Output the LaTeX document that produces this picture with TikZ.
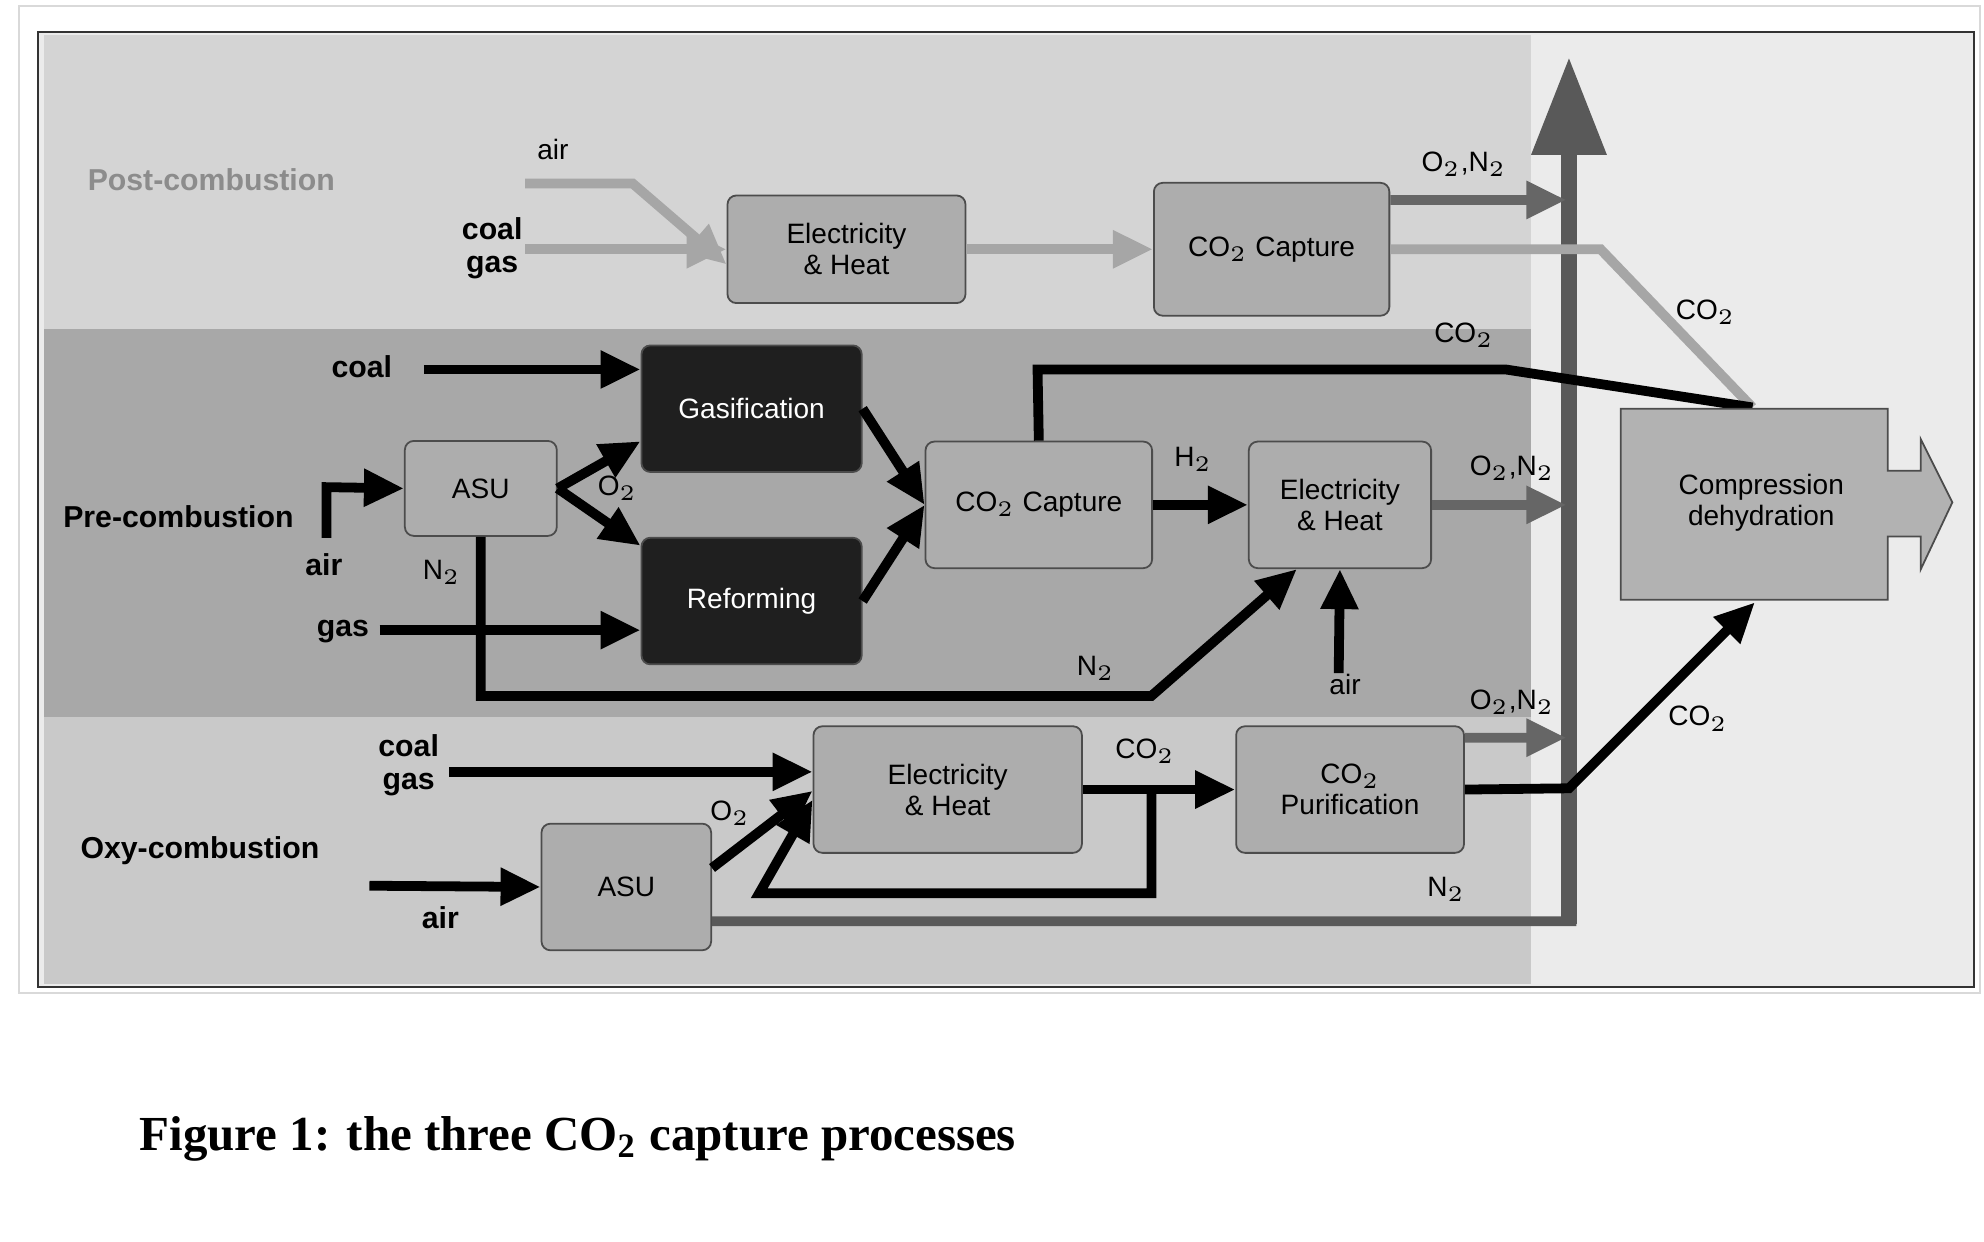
\documentclass[tikz,border=0pt]{standalone}
\usepackage{fontspec}
\setmainfont{Liberation Serif}
\setsansfont{Liberation Sans}
\usetikzlibrary{arrows.meta,positioning}

\begin{document}
\begin{tikzpicture}
      [x=0.01cm, y=-0.01cm, >={Triangle[length=9pt,width=8pt]},
      every node/.style={font=\sffamily\fontsize{6.3}{7}\selectfont, align=center},
      box/.style={rectangle, draw=black!70, rounded corners=2pt, fill=black!32,
        align=center, inner sep=0pt},
      dark/.style={box, fill=black!88, text=white},
      lbl/.style={font=\sffamily\bfseries\fontsize{6.8}{7.5}\selectfont, align=center},
      flow/.style={line width=2.2pt, ->},
      pale/.style={line width=2.2pt, draw=black!35, ->},
      mid/.style={line width=2.2pt, draw=black!60, ->}]

      \useasboundingbox (0,0) rectangle (1568,981);
      % frame and bands
      \draw [black!15, fill=white] (15,5) rectangle (1565,785);
      \draw [black!80, fill=black!8] (30,25) rectangle (1560,780);
      \fill [black!17] (35,28) rectangle (1210,260);
      \fill [black!34] (35,260) rectangle (1210,567);
      \fill [black!21] (35,567) rectangle (1210,778);
      \draw [line width=3.5pt, black!65, -{Triangle[length=22pt,width=16pt]}] (1240,730) -- (1240,45);

      % post-combustion
      \node [lbl, text=black!45] (post) at (167,142) {Post-combustion};
      \node (airA) at (437,118) {air};
      \node [lbl] (cgA) at (389,196) {coal\\gas};
      \node [box, minimum width=1.88cm, minimum height=0.85cm] (ehA) at (669,197) {Electricity\\\& Heat};
      \node [box, minimum width=1.86cm, minimum height=1.05cm] (capA) at (1005,197) {CO$_2$ Capture};
      \coordinate (airAs) at (415,145);
      \coordinate (cgAs) at (415,197);
      \draw [pale] (airAs) -- (500,145) -- ([yshift=-0.12cm]ehA.west);
      \draw [pale] (cgAs) -- (ehA.west);
      \draw [pale] (ehA) -- (capA);
      \draw [mid] ([yshift=0.39cm]capA.east) -- (1238,158);
      \node (onA) at (1157,130) {O$_2$,N$_2$};
      \draw [line width=2.2pt, black!35] (capA.east) -- (1265,197) -- (1385,322);
      \node (co2A) at (1348,247) {CO$_2$};

      % pre-combustion
      \node [lbl] (pre) at (141,408) {Pre-combustion};
      \node [lbl] (coalB) at (286,290) {coal};
      \node [lbl] (gasB) at (271,499) {gas};
      \node [lbl] (airB) at (256,446) {air};
      \node [dark, minimum width=1.74cm, minimum height=1cm] (gas) at (594,323) {Gasification};
      \node [dark, minimum width=1.74cm, minimum height=1cm] (ref) at (594,475) {Reforming};
      \node [box, minimum width=1.2cm, minimum height=0.75cm] (asuB) at (380,386) {ASU};
      \node [box, minimum width=1.79cm, minimum height=1cm] (capB) at (821,399) {CO$_2$ Capture};
      \node [box, minimum width=1.44cm, minimum height=1cm] (ehB) at (1059,399) {Electricity\\\& Heat};
      \draw [flow] (335,292) -- (gas.west |- 0,292);
      \draw [flow] (300,498) -- (ref.west |- 0,498);
      \draw [flow] (258,425) -- (258,385) -- (asuB.west);
      \draw [flow] (asuB.east) -- ([yshift=0.25cm]gas.south west);
      \draw [flow] (asuB.east) -- ([yshift=-0.07cm]ref.north west);
      \node (o2B) at (488,386) {O$_2$};
      \draw [flow] (gas.east) -- (capB.west);
      \draw [flow] (ref.east) -- (capB.west);
      \draw [flow] (asuB.south) -- (380,550) -- (910,550) -- ([xshift=-0.34cm]ehB.south);
      \node (n2B) at (349,452) {N$_2$};
      \node (n2C) at (866,528) {N$_2$};
      \draw [line width=2.2pt] (capB.north) -- (820,292) -- (1190,292) -- (1385,322);
      \node (co2B) at (1157,265) {CO$_2$};
      \draw [flow] (capB.east) -- (ehB.west);
      \node (h2B) at (943,363) {H$_2$};
      \draw [mid] (ehB.east) -- (1238,399);
      \node (onB) at (1195,370) {O$_2$,N$_2$};
      \draw [flow] (1058,532) -- (ehB.south);
      \node (airC) at (1063,541) {air};

      % compression
      \draw [draw=black!70, fill=black!30] (1281,323) -- (1492,323) -- (1492,372) -- (1518,372)
        -- (1518,347) -- (1543,397) -- (1518,450) -- (1518,424) -- (1492,424) -- (1492,474)
        -- (1281,474) -- cycle;
      \node (comp) at (1392,397) {Compression\\dehydration};

      % oxy-combustion
      \node [lbl] (oxy) at (158,672) {Oxy-combustion};
      \node [lbl] (cgD) at (323,605) {coal\\gas};
      \node [lbl] (airD) at (348,725) {air};
      \node [box, minimum width=2.12cm, minimum height=1cm] (ehD) at (749,624) {Electricity\\\& Heat};
      \node [box, minimum width=1.34cm, minimum height=1cm] (asuD) at (495,701) {ASU};
      \node [box, minimum width=1.8cm, minimum height=1cm] (pur) at (1067,624) {CO$_2$\\Purification};
      \draw [flow] (355,610) -- (ehD.west |- 0,610);
      \draw [flow] (292,700) -- (asuD.west);
      \draw [flow] ([yshift=0.15cm]asuD.east) -- ([yshift=-0.01cm]ehD.west);
      \node (o2D) at (577,643) {O$_2$};
      \draw [flow] (ehD.east) -- (pur.west);
      \node (co2D) at (905,594) {CO$_2$};
      \draw [flow] (910,623) -- (910,706) -- (600,706) -- ([yshift=-0.08cm]ehD.west);
      \draw [mid] ([yshift=0.41cm]pur.east) -- (1238,583);
      \node (onD) at (1195,555) {O$_2$,N$_2$};
      \draw [flow] (pur.east) -- (1240,623) -- (1387,476);
      \node (co2E) at (1342,568) {CO$_2$};
      \draw [line width=2.2pt, black!65] ([yshift=-0.27cm]asuD.east) -- (1242,728) -- (1242,700);
      \node (n2D) at (1143,703) {N$_2$};

      \node [font=\rmfamily\bfseries\fontsize{11}{13}\selectfont, anchor=west] (cap) at (98,900)
        {Figure 1: the three CO\textsubscript{2} capture processes};
\end{tikzpicture}
\end{document}
